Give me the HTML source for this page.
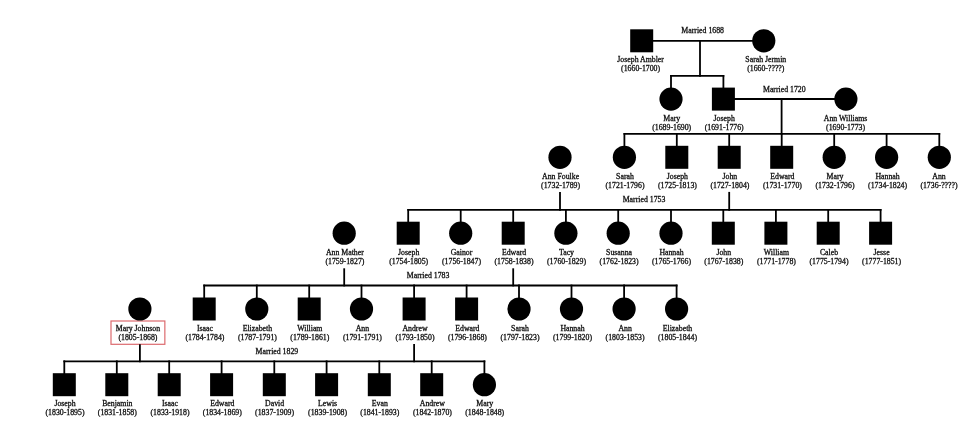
<!DOCTYPE html>
<html><head><meta charset="utf-8"><style>
html,body{margin:0;padding:0;background:#fff;width:980px;height:443px;overflow:hidden}
svg{display:block}
text{font-family:"Liberation Serif","Times New Roman",serif;font-size:7.8px;fill:#111;stroke:#111;stroke-width:0.3px;text-anchor:middle}
svg{will-change:transform}
</style></head><body>
<svg width="980" height="443" viewBox="0 0 980 443">
<rect x="111" y="321" width="53.85" height="23.3" fill="none" stroke="#dc6a6e" stroke-width="1.2"/>
<g stroke="#000" stroke-width="1.8" fill="none" stroke-linecap="square">
<line x1="653.2" y1="40.8" x2="752.3" y2="40.8"/>
<line x1="700" y1="40.8" x2="700" y2="75.9"/>
<line x1="671" y1="75.9" x2="723.4" y2="75.9"/>
<line x1="671" y1="75.9" x2="671" y2="87.6"/>
<line x1="723.4" y1="75.9" x2="723.4" y2="87.6"/>
<line x1="734.9" y1="99.0" x2="834.4" y2="99.0"/>
<line x1="781.6" y1="99.0" x2="781.6" y2="133.9"/>
<line x1="624.4" y1="133.9" x2="939.3" y2="133.9"/>
<line x1="624.4" y1="133.9" x2="624.4" y2="145.8"/>
<line x1="676.8" y1="133.9" x2="676.8" y2="145.8"/>
<line x1="729.2" y1="133.9" x2="729.2" y2="145.8"/>
<line x1="781.7" y1="133.9" x2="781.7" y2="145.8"/>
<line x1="834.2" y1="133.9" x2="834.2" y2="145.8"/>
<line x1="886.6" y1="133.9" x2="886.6" y2="145.8"/>
<line x1="939.3" y1="133.9" x2="939.3" y2="145.8"/>
<line x1="560" y1="192.8" x2="560" y2="209.9"/>
<line x1="729.2" y1="192.8" x2="729.2" y2="209.9"/>
<line x1="408.2" y1="209.9" x2="880.6" y2="209.9"/>
<line x1="408.2" y1="209.9" x2="408.2" y2="221.7"/>
<line x1="460.7" y1="209.9" x2="460.7" y2="221.7"/>
<line x1="513.2" y1="209.9" x2="513.2" y2="221.7"/>
<line x1="565.9" y1="209.9" x2="565.9" y2="221.7"/>
<line x1="618.2" y1="209.9" x2="618.2" y2="221.7"/>
<line x1="671.0" y1="209.9" x2="671.0" y2="221.7"/>
<line x1="723.3" y1="209.9" x2="723.3" y2="221.7"/>
<line x1="775.9" y1="209.9" x2="775.9" y2="221.7"/>
<line x1="828.2" y1="209.9" x2="828.2" y2="221.7"/>
<line x1="880.6" y1="209.9" x2="880.6" y2="221.7"/>
<line x1="344.2" y1="269.2" x2="344.2" y2="285.5"/>
<line x1="513.2" y1="269.2" x2="513.2" y2="285.5"/>
<line x1="204.2" y1="285.5" x2="676.6" y2="285.5"/>
<line x1="204.2" y1="285.5" x2="204.2" y2="297.5"/>
<line x1="256.8" y1="285.5" x2="256.8" y2="297.5"/>
<line x1="309.2" y1="285.5" x2="309.2" y2="297.5"/>
<line x1="361.5" y1="285.5" x2="361.5" y2="297.5"/>
<line x1="414.1" y1="285.5" x2="414.1" y2="297.5"/>
<line x1="466.6" y1="285.5" x2="466.6" y2="297.5"/>
<line x1="519.0" y1="285.5" x2="519.0" y2="297.5"/>
<line x1="571.5" y1="285.5" x2="571.5" y2="297.5"/>
<line x1="624.1" y1="285.5" x2="624.1" y2="297.5"/>
<line x1="676.6" y1="285.5" x2="676.6" y2="297.5"/>
<line x1="139.9" y1="345.2" x2="139.9" y2="361.3"/>
<line x1="414.1" y1="345.0" x2="414.1" y2="361.3"/>
<line x1="64.3" y1="361.3" x2="484.4" y2="361.3"/>
<line x1="64.3" y1="361.3" x2="64.3" y2="373.2"/>
<line x1="116.8" y1="361.3" x2="116.8" y2="373.2"/>
<line x1="169.2" y1="361.3" x2="169.2" y2="373.2"/>
<line x1="221.6" y1="361.3" x2="221.6" y2="373.2"/>
<line x1="274.3" y1="361.3" x2="274.3" y2="373.2"/>
<line x1="326.6" y1="361.3" x2="326.6" y2="373.2"/>
<line x1="379.3" y1="361.3" x2="379.3" y2="373.2"/>
<line x1="431.7" y1="361.3" x2="431.7" y2="373.2"/>
<line x1="484.4" y1="361.3" x2="484.4" y2="373.2"/>
</g>
<g fill="#000">
<rect x="630.20" y="29.30" width="23.0" height="23.0"/>
<circle cx="763.8" cy="40.8" r="11.6"/>
<circle cx="671.0" cy="99.1" r="11.6"/>
<rect x="711.90" y="87.60" width="23.0" height="23.0"/>
<circle cx="845.9" cy="99.1" r="11.6"/>
<circle cx="560.0" cy="157.3" r="11.6"/>
<circle cx="624.4" cy="157.3" r="11.6"/>
<rect x="665.30" y="145.80" width="23.0" height="23.0"/>
<rect x="717.70" y="145.80" width="23.0" height="23.0"/>
<rect x="770.20" y="145.80" width="23.0" height="23.0"/>
<circle cx="834.2" cy="157.3" r="11.6"/>
<circle cx="886.6" cy="157.3" r="11.6"/>
<circle cx="939.3" cy="157.3" r="11.6"/>
<circle cx="344.2" cy="233.2" r="11.6"/>
<rect x="396.70" y="221.70" width="23.0" height="23.0"/>
<circle cx="460.7" cy="233.2" r="11.6"/>
<rect x="501.70" y="221.70" width="23.0" height="23.0"/>
<circle cx="565.9" cy="233.2" r="11.6"/>
<circle cx="618.2" cy="233.2" r="11.6"/>
<circle cx="671.0" cy="233.2" r="11.6"/>
<rect x="711.80" y="221.70" width="23.0" height="23.0"/>
<rect x="764.40" y="221.70" width="23.0" height="23.0"/>
<rect x="816.70" y="221.70" width="23.0" height="23.0"/>
<rect x="869.10" y="221.70" width="23.0" height="23.0"/>
<circle cx="139.9" cy="309.0" r="11.6"/>
<rect x="192.70" y="297.50" width="23.0" height="23.0"/>
<circle cx="256.8" cy="309.0" r="11.6"/>
<rect x="297.70" y="297.50" width="23.0" height="23.0"/>
<circle cx="361.5" cy="309.0" r="11.6"/>
<rect x="402.60" y="297.50" width="23.0" height="23.0"/>
<rect x="455.10" y="297.50" width="23.0" height="23.0"/>
<circle cx="519.0" cy="309.0" r="11.6"/>
<circle cx="571.5" cy="309.0" r="11.6"/>
<circle cx="624.1" cy="309.0" r="11.6"/>
<circle cx="676.6" cy="309.0" r="11.6"/>
<rect x="52.80" y="373.20" width="23.0" height="23.0"/>
<rect x="105.30" y="373.20" width="23.0" height="23.0"/>
<rect x="157.70" y="373.20" width="23.0" height="23.0"/>
<rect x="210.10" y="373.20" width="23.0" height="23.0"/>
<rect x="262.80" y="373.20" width="23.0" height="23.0"/>
<rect x="315.10" y="373.20" width="23.0" height="23.0"/>
<rect x="367.80" y="373.20" width="23.0" height="23.0"/>
<rect x="420.20" y="373.20" width="23.0" height="23.0"/>
<circle cx="484.4" cy="384.7" r="11.6"/>
</g>
<g>
<text x="640.60" y="62.00">Joseph Ambler</text><text x="640.60" y="71.00">(1660-1700)</text>
<text x="765.80" y="62.00">Sarah Jermin</text><text x="765.80" y="71.00">(1660-????)</text>
<text x="671.70" y="121.00">Mary</text><text x="671.70" y="130.00">(1689-1690)</text>
<text x="724.20" y="121.00">Joseph</text><text x="724.20" y="130.00">(1691-1776)</text>
<text x="845.60" y="121.00">Ann Williams</text><text x="845.60" y="130.00">(1690-1773)</text>
<text x="560.60" y="179.00">Ann Foulke</text><text x="560.60" y="188.00">(1732-1789)</text>
<text x="625.00" y="179.00">Sarah</text><text x="625.00" y="188.00">(1721-1796)</text>
<text x="677.40" y="179.00">Joseph</text><text x="677.40" y="188.00">(1725-1813)</text>
<text x="729.90" y="179.00">John</text><text x="729.90" y="188.00">(1727-1804)</text>
<text x="782.40" y="179.00">Edward</text><text x="782.40" y="188.00">(1731-1770)</text>
<text x="835.00" y="179.00">Mary</text><text x="835.00" y="188.00">(1732-1796)</text>
<text x="887.60" y="179.00">Hannah</text><text x="887.60" y="188.00">(1734-1824)</text>
<text x="939.00" y="179.00">Ann</text><text x="939.00" y="188.00">(1736-????)</text>
<text x="344.90" y="255.00">Ann Mather</text><text x="344.90" y="264.00">(1759-1827)</text>
<text x="408.70" y="255.00">Joseph</text><text x="408.70" y="264.00">(1754-1805)</text>
<text x="461.50" y="255.00">Gainor</text><text x="461.50" y="264.00">(1756-1847)</text>
<text x="514.00" y="255.00">Edward</text><text x="514.00" y="264.00">(1758-1838)</text>
<text x="566.50" y="255.00">Tacy</text><text x="566.50" y="264.00">(1760-1829)</text>
<text x="619.10" y="255.00">Susanna</text><text x="619.10" y="264.00">(1762-1823)</text>
<text x="671.50" y="255.00">Hannah</text><text x="671.50" y="264.00">(1765-1766)</text>
<text x="723.80" y="255.00">John</text><text x="723.80" y="264.00">(1767-1838)</text>
<text x="776.40" y="255.00">William</text><text x="776.40" y="264.00">(1771-1778)</text>
<text x="829.00" y="255.00">Caleb</text><text x="829.00" y="264.00">(1775-1794)</text>
<text x="881.60" y="255.00">Jesse</text><text x="881.60" y="264.00">(1777-1851)</text>
<text x="137.95" y="331.00">Mary Johnson</text><text x="137.95" y="340.00">(1805-1868)</text>
<text x="204.90" y="331.00">Isaac</text><text x="204.90" y="340.00">(1784-1784)</text>
<text x="257.40" y="331.00">Elizabeth</text><text x="257.40" y="340.00">(1787-1791)</text>
<text x="309.80" y="331.00">William</text><text x="309.80" y="340.00">(1789-1861)</text>
<text x="362.40" y="331.00">Ann</text><text x="362.40" y="340.00">(1791-1791)</text>
<text x="415.00" y="331.00">Andrew</text><text x="415.00" y="340.00">(1793-1850)</text>
<text x="467.40" y="331.00">Edward</text><text x="467.40" y="340.00">(1796-1868)</text>
<text x="520.00" y="331.00">Sarah</text><text x="520.00" y="340.00">(1797-1823)</text>
<text x="572.50" y="331.00">Hannah</text><text x="572.50" y="340.00">(1799-1820)</text>
<text x="625.10" y="331.00">Ann</text><text x="625.10" y="340.00">(1803-1853)</text>
<text x="677.50" y="331.00">Elizabeth</text><text x="677.50" y="340.00">(1805-1844)</text>
<text x="65.00" y="406.00">Joseph</text><text x="65.00" y="415.00">(1830-1895)</text>
<text x="117.30" y="406.00">Benjamin</text><text x="117.30" y="415.00">(1831-1858)</text>
<text x="170.00" y="406.00">Isaac</text><text x="170.00" y="415.00">(1833-1918)</text>
<text x="222.30" y="406.00">Edward</text><text x="222.30" y="415.00">(1834-1869)</text>
<text x="274.60" y="406.00">David</text><text x="274.60" y="415.00">(1837-1909)</text>
<text x="327.60" y="406.00">Lewis</text><text x="327.60" y="415.00">(1839-1908)</text>
<text x="379.80" y="406.00">Evan</text><text x="379.80" y="415.00">(1841-1893)</text>
<text x="432.40" y="406.00">Andrew</text><text x="432.40" y="415.00">(1842-1870)</text>
<text x="484.70" y="406.00">Mary</text><text x="484.70" y="415.00">(1848-1848)</text>
<text x="702.70" y="33.00">Married 1688</text>
<text x="784.30" y="92.00">Married 1720</text>
<text x="644.00" y="202.10">Married 1753</text>
<text x="428.10" y="278.10">Married 1783</text>
<text x="276.90" y="353.70">Married 1829</text>
</g>
</svg>
</body></html>
